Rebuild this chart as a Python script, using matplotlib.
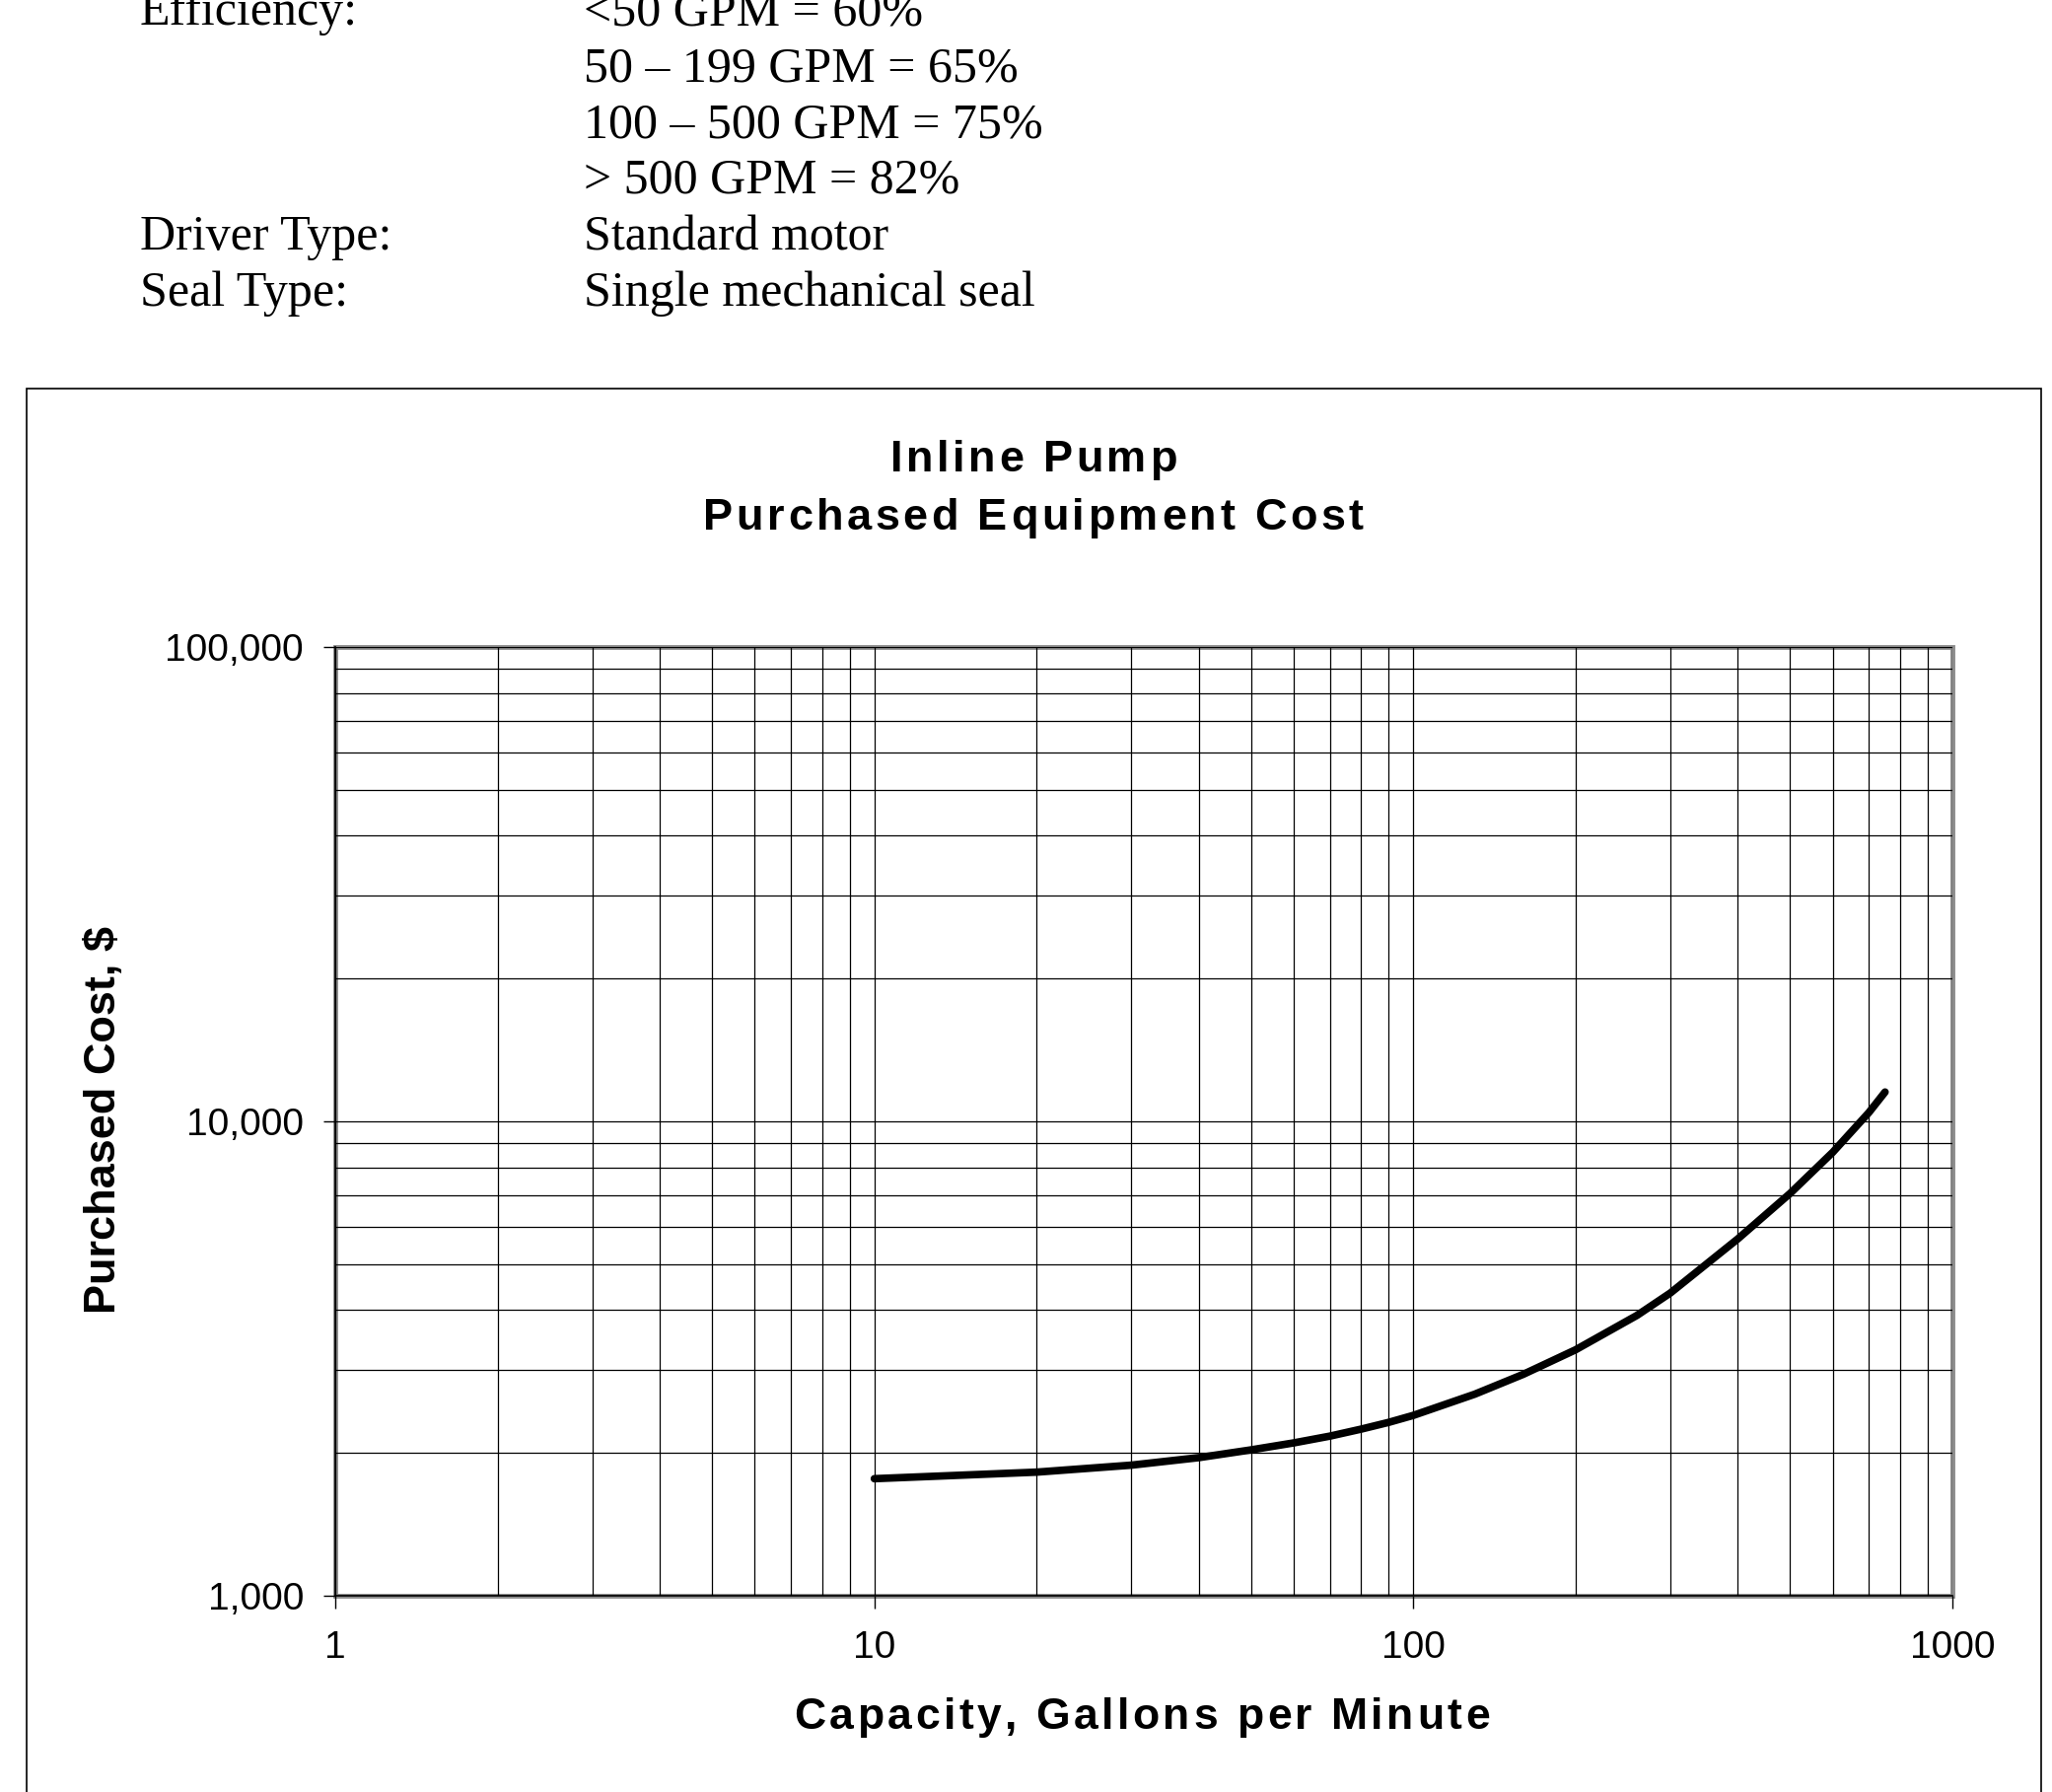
import numpy as np
import matplotlib
matplotlib.use("Agg")
import matplotlib.pyplot as plt
from matplotlib.patches import Rectangle
from matplotlib.ticker import LogLocator, FuncFormatter, NullFormatter
from matplotlib.font_manager import FontProperties, findfont, get_font

# curve (GPM vs purchased cost $)
capacity_gpm = [10, 20, 30, 40, 50, 60, 70, 80, 90, 100, 130, 160, 200, 260, 300,
                400, 500, 600, 700, 750]
cost_usd = [1765, 1822, 1885, 1955, 2030, 2100, 2170, 2245, 2320, 2400, 2660, 2930,
            3300, 3900, 4350, 5655, 7050, 8610, 10440, 11530]

spec_labels = ["Efficiency:", "", "", "", "Driver Type:", "Seal Type:"]
spec_values = ["<50 GPM = 60%", "50 \u2013 199 GPM = 65%", "100 \u2013 500 GPM = 75%",
               "> 500 GPM = 82%", "Standard motor", "Single mechanical seal"]

title_lines = ["Inline Pump", "Purchased Equipment Cost"]
x_label = "Capacity, Gallons per Minute"
y_label = "Purchased Cost, $"

W, H = 2081, 1817
DPI = 100
fig = plt.figure(figsize=(W / DPI, H / DPI), dpi=DPI)

def fx(px):
    return px / W

def fy(py):
    return 1 - py / H

sans = "Liberation Sans"
serif = "Liberation Serif"

def tracked_text(s, cx, baseline, size, track):
    # draw text char by char with extra letter spacing (excel-ish look)
    fp = FontProperties(family=sans, weight="bold", size=size)
    font = get_font(findfont(fp))
    font.set_size(size, DPI)
    advs = []
    for c in s:
        g = font.load_char(ord(c))
        advs.append(g.linearHoriAdvance / 65536)
    total = sum(advs) + track * (len(s) - 1)
    x = cx - total / 2
    for c, a in zip(s, advs):
        if c != " ":
            fig.text(fx(x), fy(baseline), c, fontproperties=fp, ha="left", va="baseline")
        x += a + track

# spec text above the chart
for i, (lab, val) in enumerate(zip(spec_labels, spec_values)):
    yb = 25 + 57 * i
    if lab:
        fig.text(fx(142), fy(yb), lab, family=serif, fontsize=36, va="baseline", ha="left")
    fig.text(fx(592), fy(yb), val, family=serif, fontsize=36, va="baseline", ha="left")

# chart area frame
fig.patches.append(Rectangle((fx(27), fy(1830)), fx(2070 - 27), (1830 - 394) / H,
                             transform=fig.transFigure, fill=False, edgecolor="black",
                             lw=1.2, figure=fig))

tracked_text(title_lines[0], 1048, 478, 32.5, 3.5)
tracked_text(title_lines[1], 1048, 537, 32.5, 3.5)

ax = fig.add_axes([fx(340), fy(1618), fx(1980 - 340), (1618 - 656) / H])
ax.plot(capacity_gpm, cost_usd, color="black", lw=5.5, solid_capstyle="round",
        solid_joinstyle="round", zorder=3)
ax.set_xscale("log")
ax.set_yscale("log")
ax.set_xlim(1, 1000)
ax.set_ylim(1000, 100000)

ax.xaxis.set_major_locator(LogLocator(base=10, numticks=10))
ax.yaxis.set_major_locator(LogLocator(base=10, numticks=10))
ax.xaxis.set_minor_locator(LogLocator(base=10, subs=np.arange(2, 10), numticks=20))
ax.yaxis.set_minor_locator(LogLocator(base=10, subs=np.arange(2, 10), numticks=20))
ax.xaxis.set_major_formatter(FuncFormatter(lambda v, p: f"{v:.0f}"))
ax.yaxis.set_major_formatter(FuncFormatter(lambda v, p: f"{v:,.0f}"))
ax.xaxis.set_minor_formatter(NullFormatter())
ax.yaxis.set_minor_formatter(NullFormatter())

ax.grid(True, which="both", color="black", lw=0.9)
ax.tick_params(which="major", direction="out", length=9, width=1, color="black",
               labelsize=28)
ax.tick_params(axis="y", which="major", pad=14)
ax.tick_params(axis="x", which="major", pad=16)
ax.tick_params(which="minor", length=0)
for lbl in ax.get_xticklabels() + ax.get_yticklabels():
    lbl.set_family(sans)

for s in ["top", "right"]:
    ax.spines[s].set_visible(False)
for s in ["left", "bottom"]:
    ax.spines[s].set_color("black")
    ax.spines[s].set_linewidth(1.2)
ax.add_patch(Rectangle((0, 0), 1, 1, transform=ax.transAxes, fill=False,
                       edgecolor="#8c8c8c", lw=3.5, zorder=1, clip_on=False))

tracked_text(x_label, 1158, 1753, 32, 3.5)
fig.text(fx(106), fy(1135), y_label, family=sans, fontweight="bold", fontsize=32.5,
         ha="center", va="center", rotation=90)

fig.savefig("out.png", dpi=DPI)
